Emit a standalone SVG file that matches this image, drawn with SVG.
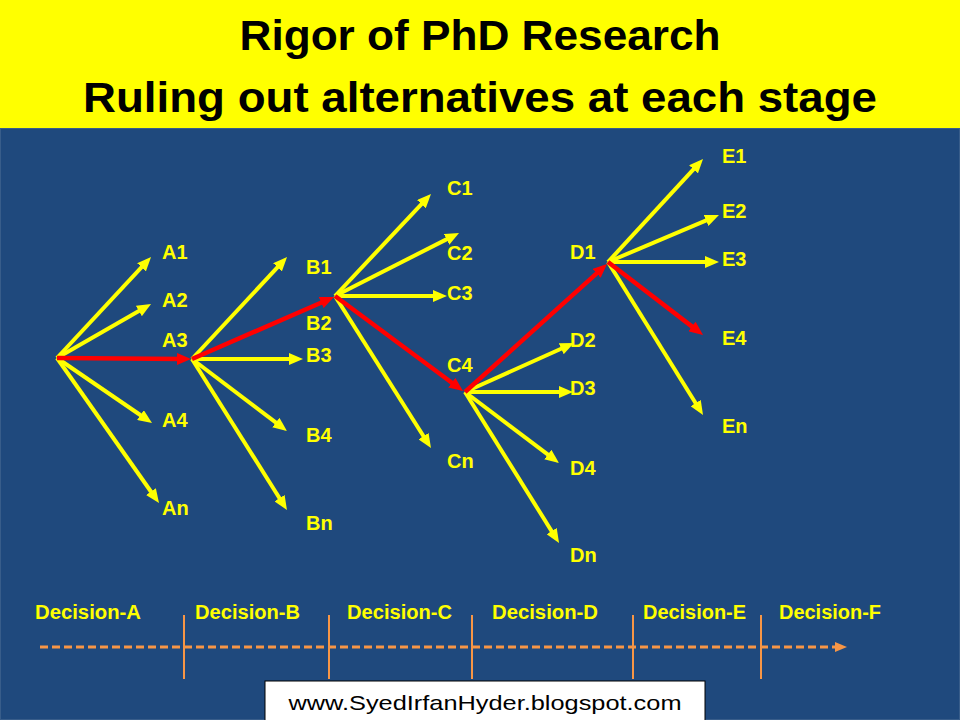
<svg xmlns="http://www.w3.org/2000/svg" width="960" height="720" viewBox="0 0 960 720">
<style>
.lbl{font-family:"Liberation Sans",Arial,sans-serif;font-weight:bold;font-size:20px;fill:#FFFF00}
.dec{font-family:"Liberation Sans",Arial,sans-serif;font-weight:bold;font-size:20px;fill:#FFFF00}
.title{font-family:"Liberation Sans",Arial,sans-serif;font-weight:bold;font-size:43px;fill:#000}
.y{stroke:#FFFF00;stroke-width:4;fill:none;marker-end:url(#ay)}
.r{stroke:#FF0000;stroke-width:4.5;fill:none;marker-end:url(#ar)}
.tick{stroke:#F79646;stroke-width:2}
</style>
<defs>
<marker id="ay" markerUnits="userSpaceOnUse" markerWidth="14" markerHeight="12" refX="6" refY="6" orient="auto"><path d="M0,0 L14,6 L0,12 z" fill="#FFFF00"/></marker>
<marker id="ar" markerUnits="userSpaceOnUse" markerWidth="14" markerHeight="12" refX="6" refY="6" orient="auto"><path d="M0,0 L14,6 L0,12 z" fill="#FF0000"/></marker>
<marker id="ao" markerUnits="userSpaceOnUse" markerWidth="12" markerHeight="12" refX="2" refY="6" orient="auto"><path d="M0,1 L12,6 L0,11 z" fill="#F79646"/></marker>
</defs>
<rect x="0" y="0" width="960" height="720" fill="#1F497D"/>
<rect x="0.5" y="128.5" width="959" height="591" fill="none" stroke="#385D8A" stroke-width="1"/>
<rect x="0" y="0" width="960" height="128" fill="#FFFF00"/>
<g id="title">
<text class="title" x="480" y="50" text-anchor="middle" textLength="481" lengthAdjust="spacingAndGlyphs">Rigor of PhD Research</text>
<text class="title" x="480" y="112" text-anchor="middle" textLength="794" lengthAdjust="spacingAndGlyphs">Ruling out alternatives at each stage</text>
</g>
<g id="connectors">
<line class="y" x1="57" y1="358" x2="145.6" y2="262.9"/>
<line class="y" x1="57" y1="358" x2="144.1" y2="308"/>
<line class="y" x1="57" y1="358" x2="145.4" y2="418.5"/>
<line class="y" x1="57" y1="358" x2="154.4" y2="496.5"/>
<line class="y" x1="192" y1="359" x2="281.6" y2="262.9"/>
<line class="y" x1="192" y1="359" x2="295" y2="359"/>
<line class="y" x1="192" y1="359" x2="280.6" y2="426.2"/>
<line class="y" x1="192" y1="359" x2="282.7" y2="503.2"/>
<line class="y" x1="335" y1="296" x2="425.5" y2="199.8"/>
<line class="y" x1="335" y1="296" x2="451.9" y2="236.6"/>
<line class="y" x1="335" y1="296" x2="439" y2="296"/>
<line class="y" x1="335" y1="296" x2="426.7" y2="441.2"/>
<line class="y" x1="465" y1="392" x2="566.7" y2="346.3"/>
<line class="y" x1="465" y1="392" x2="565" y2="392"/>
<line class="y" x1="465" y1="392" x2="552.6" y2="458.2"/>
<line class="y" x1="465" y1="392" x2="554.8" y2="536.2"/>
<line class="y" x1="608" y1="262" x2="697.6" y2="164.9"/>
<line class="y" x1="608" y1="262" x2="711.6" y2="218.1"/>
<line class="y" x1="608" y1="262" x2="711" y2="262"/>
<line class="y" x1="608" y1="262" x2="698.8" y2="408.2"/>
<line class="r" x1="57" y1="358" x2="183" y2="359"/>
<line class="r" x1="192" y1="359" x2="326.7" y2="300.2"/>
<line class="r" x1="335" y1="296" x2="456.6" y2="386.2"/>
<line class="r" x1="465" y1="392" x2="601.1" y2="269.4"/>
<line class="r" x1="608" y1="262" x2="696.7" y2="330.1"/>
</g>
<g id="A1"><text class="lbl" x="162" y="259">A1</text></g>
<g id="A2"><text class="lbl" x="162" y="307">A2</text></g>
<g id="A3"><text class="lbl" x="162" y="347">A3</text></g>
<g id="A4"><text class="lbl" x="162" y="427">A4</text></g>
<g id="An"><text class="lbl" x="162" y="515">An</text></g>
<g id="B1"><text class="lbl" x="306" y="274">B1</text></g>
<g id="B2"><text class="lbl" x="306" y="330">B2</text></g>
<g id="B3"><text class="lbl" x="306" y="362">B3</text></g>
<g id="B4"><text class="lbl" x="306" y="442">B4</text></g>
<g id="Bn"><text class="lbl" x="306" y="530">Bn</text></g>
<g id="C1"><text class="lbl" x="447" y="195">C1</text></g>
<g id="C2"><text class="lbl" x="447" y="260">C2</text></g>
<g id="C3"><text class="lbl" x="447" y="300">C3</text></g>
<g id="C4"><text class="lbl" x="447" y="372">C4</text></g>
<g id="Cn"><text class="lbl" x="447" y="468">Cn</text></g>
<g id="D1"><text class="lbl" x="570" y="259">D1</text></g>
<g id="D2"><text class="lbl" x="570" y="347">D2</text></g>
<g id="D3"><text class="lbl" x="570" y="395">D3</text></g>
<g id="D4"><text class="lbl" x="570" y="475">D4</text></g>
<g id="Dn"><text class="lbl" x="570" y="562">Dn</text></g>
<g id="E1"><text class="lbl" x="722" y="163">E1</text></g>
<g id="E2"><text class="lbl" x="722" y="218">E2</text></g>
<g id="E3"><text class="lbl" x="722" y="266">E3</text></g>
<g id="E4"><text class="lbl" x="722" y="345">E4</text></g>
<g id="En"><text class="lbl" x="722" y="433">En</text></g>
<g id="timeline">
<line x1="40" y1="647" x2="837" y2="647" stroke="#F79646" stroke-width="3" stroke-dasharray="8,4" marker-end="url(#ao)"/>
<line class="tick" x1="184" y1="615" x2="184" y2="679"/>
<line class="tick" x1="329" y1="615" x2="329" y2="679"/>
<line class="tick" x1="472" y1="615" x2="472" y2="679"/>
<line class="tick" x1="633" y1="615" x2="633" y2="679"/>
<line class="tick" x1="761" y1="615" x2="761" y2="679"/>
<text class="dec" x="35" y="619" textLength="106" lengthAdjust="spacingAndGlyphs">Decision-A</text>
<text class="dec" x="195" y="619" textLength="105" lengthAdjust="spacingAndGlyphs">Decision-B</text>
<text class="dec" x="347" y="619" textLength="105" lengthAdjust="spacingAndGlyphs">Decision-C</text>
<text class="dec" x="492" y="619" textLength="106" lengthAdjust="spacingAndGlyphs">Decision-D</text>
<text class="dec" x="643" y="619" textLength="103" lengthAdjust="spacingAndGlyphs">Decision-E</text>
<text class="dec" x="779" y="619" textLength="102" lengthAdjust="spacingAndGlyphs">Decision-F</text>
</g>
<g id="footer">
<rect x="265" y="681" width="440" height="40" fill="#FFFFFF" stroke="#000" stroke-width="1"/>
<text x="485" y="710" text-anchor="middle" font-family="'Liberation Sans',Arial,sans-serif" font-size="21" fill="#000" textLength="393" lengthAdjust="spacingAndGlyphs">www.SyedIrfanHyder.blogspot.com</text>
</g>
</svg>
